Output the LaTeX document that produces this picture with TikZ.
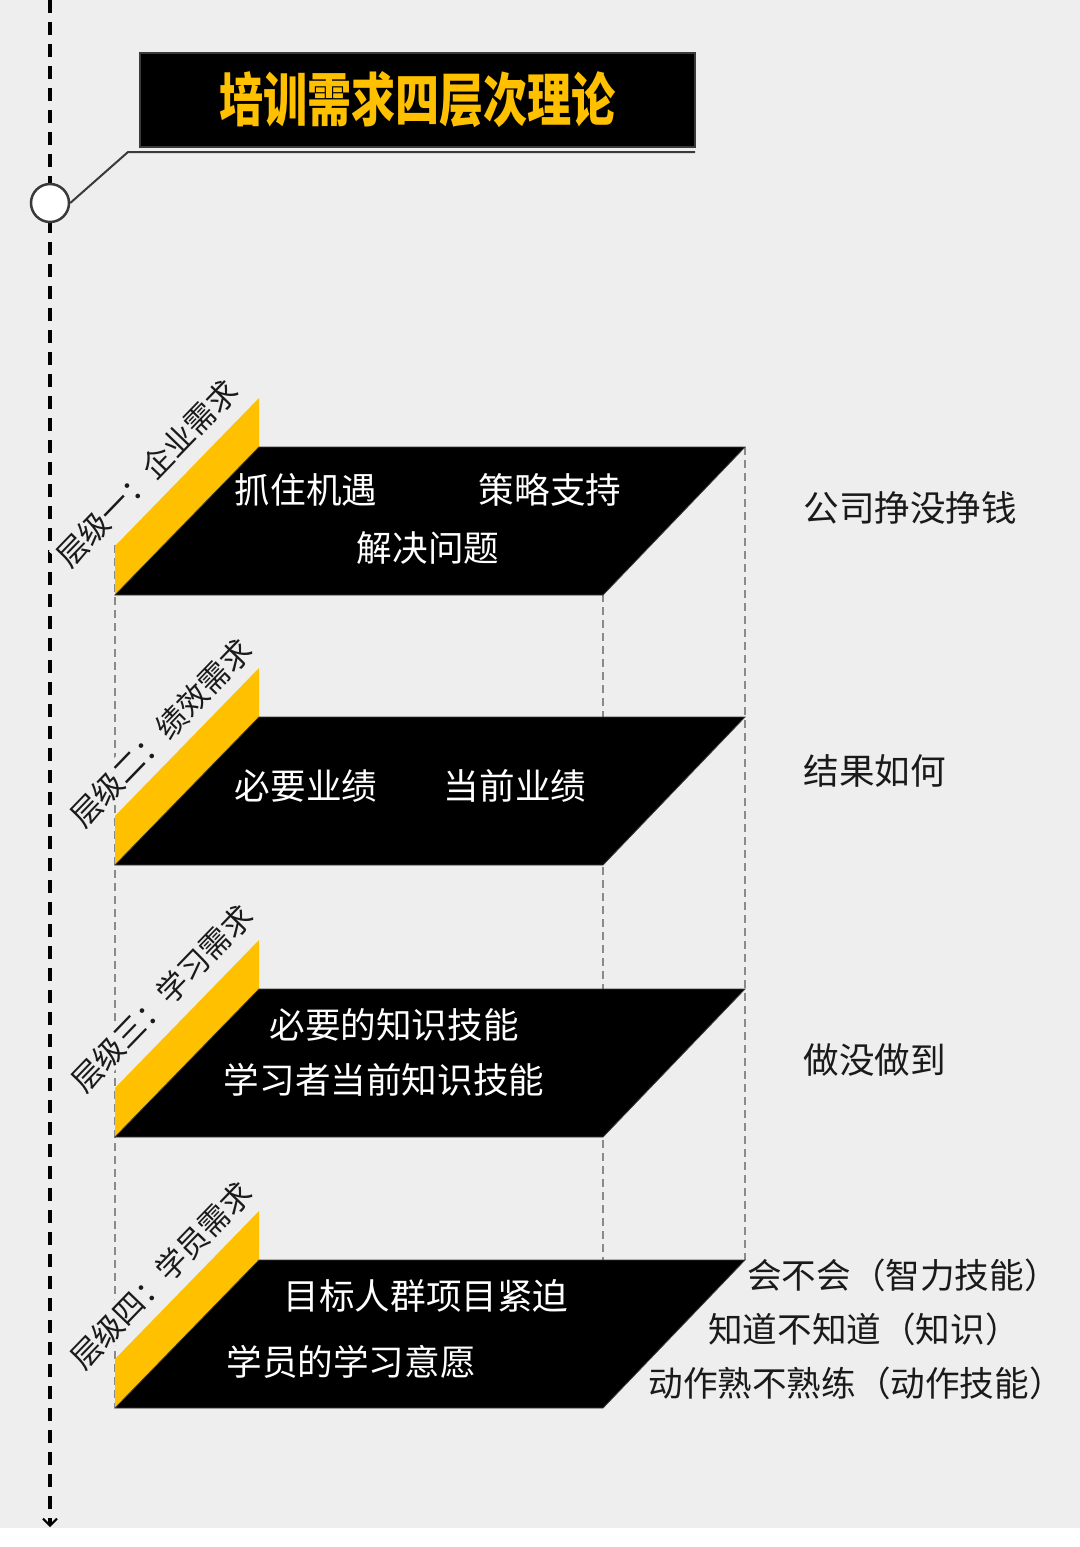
\documentclass[tikz,border=0pt]{standalone}
\usepackage{fontspec}
\usepackage{graphicx}
\usetikzlibrary{arrows.meta}
\newfontfamily\cjk{Noto Sans CJK SC}
\definecolor{paper}{HTML}{EEEEEE}
\definecolor{gold}{HTML}{FFC000}
\definecolor{guide}{HTML}{8A8A8A}
\definecolor{ink}{HTML}{1A1A1A}
\definecolor{rim}{HTML}{3A3A3A}
\begin{document}
\begin{tikzpicture}[x=0.5pt,y=-0.5pt,
  guideline/.style={draw=guide, line width=0.6pt, dash pattern=on 4pt off 2.5pt},
  inbox/.style={text=white, font=\cjk\fontsize{17.8}{20}\selectfont, inner sep=0pt},
  sidetext/.style={text=ink, font=\cjk\fontsize{17.8}{20}\selectfont, inner sep=0pt},
  sidesmall/.style={text=ink, font=\cjk\fontsize{17.3}{20}\selectfont, inner sep=0pt},
  lvlabel/.style={text=ink, font=\cjk\fontsize{15.3}{18}\selectfont, rotate=46, fill=paper, inner sep=1pt},
  goldstrip/.style={fill=gold},
  blackplate/.style={fill=black, draw=rim, line width=0.4pt}
]
% background
\fill[paper] (0,0) rectangle (1080,1528);
\fill[white] (0,1528) rectangle (1080,1547);
\useasboundingbox (0,0) rectangle (1080,1547);

% timeline
\coordinate (tltop) at (50,0);
\coordinate (tlbot) at (50,1527);
\draw[black, line width=1.7pt, dash pattern=on 6.5pt off 4.5pt,
  -{Straight Barb[length=3.5pt,width=7pt,line width=1pt]}] (tltop) -- (tlbot);

% guide lines
\coordinate (gr1) at (745,447);
\coordinate (gr2) at (745,1260);
\coordinate (gm1) at (603,594);
\coordinate (gm2) at (603,1260);
\coordinate (gl1) at (115,545);
\coordinate (gl2) at (115,1408);
\draw[guideline] (gr1) -- (gr2);
\draw[guideline] (gm1) -- (gm2);
\draw[guideline] (gl1) -- (gl2);

% level labels
\node[lvlabel] (lab1) at (147,473) {层级一：企业需求};
\node[lvlabel] (lab2) at (161,733) {层级二：绩效需求};
\node[lvlabel] (lab3) at (162,998) {层级三：学习需求};
\node[lvlabel] (lab4) at (161,1275) {层级四：学员需求};

% plates
\foreach \T in {447,717,989,1260}{
  \fill[goldstrip] (115,\T+99) -- (259,\T-49) -- (259,\T) -- (115,\T+148) -- cycle;
  \filldraw[blackplate] (259,\T) -- (745,\T) -- (603,\T+148) -- (115,\T+148) -- cycle;
}

% texts in plates
\node[inbox] (a1) at (306,490) {抓住机遇};
\node[inbox] (a2) at (550,490) {策略支持};
\node[inbox] (a3) at (428,548) {解决问题};
\node[inbox] (b1) at (306,786) {必要业绩};
\node[inbox] (b2) at (515,786) {当前业绩};
\node[inbox] (c1) at (394,1025) {必要的知识技能};
\node[inbox] (c2) at (384,1080) {学习者当前知识技能};
\node[inbox] (d1) at (426,1296) {目标人群项目紧迫};
\node[inbox] (d2) at (351,1362) {学员的学习意愿};

% side texts
\node[sidetext, anchor=west] (s1) at (803,508) {公司挣没挣钱};
\node[sidetext, anchor=west] (s2) at (803,771) {结果如何};
\node[sidetext, anchor=west] (s3) at (803,1060) {做没做到};
\node[sidesmall] (s4) at (903,1275) {会不会（智力技能）};
\node[sidesmall] (s5) at (864,1329) {知道不知道（知识）};
\node[sidesmall] (s6) at (856,1383) {动作熟不熟练（动作技能）};

% circle, connector and title
\node[circle, draw=rim, fill=white, line width=1.25pt, minimum size=19pt, inner sep=0pt] (dot) at (50,203) {};
\coordinate (bend) at (128,152);
\coordinate (lineend) at (695,152);
\draw[rim, line width=1pt] (dot.east) -- (bend) -- (lineend);
\node[fill=black, draw=rim, line width=1pt, minimum width=277.5pt, minimum height=47pt, inner sep=0pt,
  text=gold] (title) at (417.5,100)
  {\scalebox{0.76}[1]{\cjk\bfseries\fontsize{29}{32}\selectfont 培训需求四层次理论}};
\end{tikzpicture}
\end{document}
